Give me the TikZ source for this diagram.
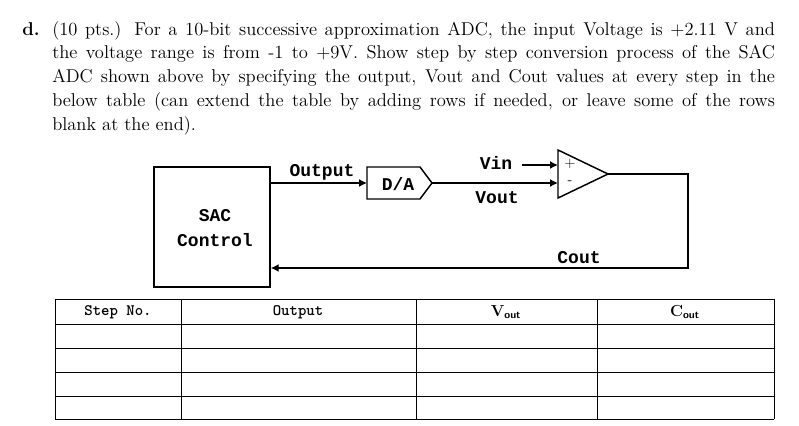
\documentclass[tikz,border=0pt]{standalone}
\usepackage{fontspec}
\usetikzlibrary{arrows.meta}
\newfontfamily\cour{Liberation Mono}
\begin{document}
\begin{tikzpicture}[x=0.75pt,y=-0.75pt,
  lbl/.style={font=\cour\bfseries\fontsize{13.5}{15}\selectfont, inner sep=0pt},
  ln/.style={line width=1.1pt},
  arr/.style={ln,-{Latex[length=6pt,width=6pt]}},
  para/.style={anchor=base west, inner sep=0pt, font=\fontsize{13.9}{16}\selectfont}]
\useasboundingbox (0,0) rectangle (799,425);
\node[para] (d) at (22,35) {\textbf{d.}};
\node[para] (l1) at (52,35) {\makebox[542pt][s]{(10 pts.) For a 10-bit successive approximation ADC, the input Voltage is +2.11 V and}};
\node[para] (l2) at (52,58) {\makebox[542pt][s]{the voltage range is from -1 to +9V. Show step by step conversion process of the SAC}};
\node[para] (l3) at (52,82) {\makebox[542pt][s]{ADC shown above by specifying the output, Vout and Cout values at every step in the}};
\node[para] (l4) at (52,106) {\makebox[542pt][s]{below table (can extend the table by adding rows if needed, or leave some of the rows}};
\node[para] (l5) at (52,130) {blank at the end).};
% diagram
\node[draw,ln,minimum width=87pt,minimum height=90pt,inner sep=0pt] (sac) at (212,227) {};
\node[lbl] (t1) at (215,216) {SAC};
\node[lbl] (t2) at (215,240) {Control};
\draw[ln] (367,167) -- (420,167) -- (432,183) -- (420,199) -- (367,199) -- cycle;
\node[lbl] (da) at (398,184) {D/A};
\coordinate (dain) at (367,183);
\coordinate (daout) at (432,183);
\draw[ln] (558,150) -- (608,174) -- (558,198) -- cycle;
\coordinate (plus) at (558,165);
\coordinate (minus) at (558,183);
\coordinate (tip) at (608,174);
\node[font=\sffamily\fontsize{11}{12}\selectfont,inner sep=0pt] (p) at (570,164) {+};
\node[font=\sffamily\fontsize{11}{12}\selectfont,inner sep=0pt] (m) at (570,183) {-};
\draw[arr] (sac.east |- dain) -- (dain);
\draw[arr] (daout) -- (minus);
\coordinate (vinstart) at (522,165);
\draw[arr] (vinstart) -- (plus);
\draw[arr] (tip) -- (688,174) -- (688,268) -- (sac.east |- 0,268);
\node[lbl] (o) at (322,172) {Output};
\node[lbl] (vin) at (496,163) {Vin};
\node[lbl] (vout) at (497,198) {Vout};
\node[lbl] (cout) at (579,258) {Cout};
% table
\foreach \y in {299,324,348,372,396,419} \draw[line width=0.6pt] (55,\y) -- (774,\y);
\foreach \x in {55,181,416,597,774} \draw[line width=0.6pt] (\x,299) -- (\x,419);
\node[font=\ttfamily\bfseries\fontsize{12}{14}\selectfont] (h1) at (118,312) {Step No.};
\node[font=\ttfamily\bfseries\fontsize{12}{14}\selectfont] (h2) at (298,312) {Output};
\node[font=\bfseries\fontsize{12}{14}\selectfont] (h3) at (506,312) {V\textsubscript{\sffamily out}};
\node[font=\bfseries\fontsize{12}{14}\selectfont] (h4) at (685,312) {C\textsubscript{\sffamily out}};
\end{tikzpicture}
\end{document}
